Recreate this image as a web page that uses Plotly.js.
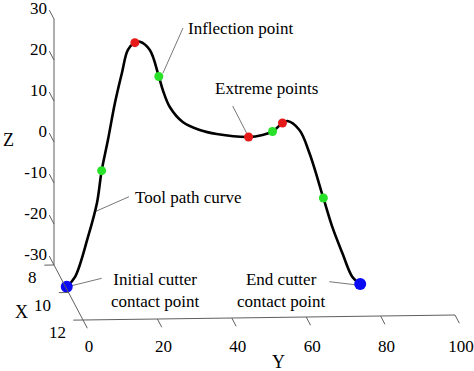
<!DOCTYPE html>
<html><head><meta charset="utf-8">
<script src="https://cdn.plot.ly/plotly-3.0.1.min.js"></script>
<style>html,body{margin:0;padding:0;background:#fff}#chart{width:474px;height:371px}</style>
</head><body><div id="chart"></div>
<script>
// Tool path curve (Y and Z in axis units)
const curveY = [-5.98,-3.75,-0.27,2.14,3.40,5.09,6.97,8.85,10.46,12.33,13.67,16.35,18.77,19.84,21.72,25.2,29.76,34.32,42.9,46.65,49.33,52.0,53.35,56.57,59.25,63.0,65.4,68.1,70.8,72.9];
const curveZ = [-37.98,-35.6,-25.85,-17.56,-9.68,-2.2,6.83,14.15,19.76,21.54,21.78,19.76,13.29,10.0,5.85,2.2,0.24,-0.73,-1.46,-0.98,-0.12,1.95,2.44,0.24,-5.37,-16.34,-23.4,-29.76,-35.6,-37.3];
// Extreme points (red)
const extremeY = [12.33, 42.9, 52.0];
const extremeZ = [21.54, -1.46, 1.95];
// Inflection points (green)
const inflectY = [3.40, 18.77, 49.33, 63.0];
const inflectZ = [-9.68, 13.29, -0.12, -16.34];
// Initial / end cutter contact points (blue)
const endY = [-5.98, 72.9];
const endZ = [-37.98, -37.3];
// Tick values
const yTicks = [0, 20, 40, 60, 80, 100];
const zTicks = [30, 20, 10, 0, -10, -20, -30];
const xTicks = [8, 10, 12];

const W = 474, H = 371, L = 50, R = 0, T = 0, B = 51;
const pw = W - L - R, ph = H - T - B;
const xRange = [(L - 89) / 3.72, (W - R - 89) / 3.72];
const yRange = [(131 - (H - B)) / 4.1, (131 - T) / 4.1];
function paper(px, py) { return {x: (px - L) / pw, y: (H - B - py) / ph}; }
// oblique projection of the 3D axis box onto the page
function scr(X, Y, Z) { return [54 + 7.25 * (X - 8) + 3.72 * Y, 265 + 13.75 * (X - 8) - 4.1 * (Z + 30) - 0.05 * Y]; }
const axisCol = 'rgb(95,95,95)';
function seg(a, b, color, width, layer) {
  const p = paper(a[0], a[1]), q = paper(b[0], b[1]);
  return {type: 'line', xref: 'paper', yref: 'paper', x0: p.x, y0: p.y, x1: q.x, y1: q.y,
          line: {color: color, width: width}, layer: layer || 'above'};
}
const shapes = [];
shapes.push(seg(scr(8, 0, -30), scr(8, 0, 30), axisCol, 1));
zTicks.forEach(v => shapes.push(seg(scr(8, 0, v), scr(7.35, 0, v), axisCol, 1)));
shapes.push(seg(scr(8, 0, -30), scr(12, 0, -30), axisCol, 1));
xTicks.forEach(v => shapes.push(seg(scr(v, 0, -30), scr(v, -2.6, -30), axisCol, 1)));
shapes.push(seg(scr(12, 0, -30), scr(12, 100, -30), axisCol, 1));
yTicks.forEach(v => shapes.push(seg(scr(12, v, -30), scr(12.6, v, -30), axisCol, 1)));
// leader lines
const leadCol = 'rgb(120,120,120)';
[[[183, 28], [163, 73]], [[232.7, 106], [246.7, 133.3]], [[129, 196.7], [95, 211.7]],
 [[101.7, 278.3], [71.7, 285.7]], [[329.3, 281.7], [357.3, 285]]]
  .forEach(s => shapes.push(seg(s[0], s[1], leadCol, 1, 'below')));

const fontF = 'Liberation Serif';
function ann(text, px, py, xanchor, size) {
  const p = paper(px, py);
  return {text: text, xref: 'paper', yref: 'paper', x: p.x, y: p.y, showarrow: false,
          xanchor: xanchor || 'center', yanchor: 'middle', align: 'center',
          font: {family: fontF, size: size || 17, color: '#000'}};
}
const annotations = [
  ann('Inflection point', 241, 28),
  ann('Extreme points', 266, 89),
  ann('Tool path curve', 188, 197),
  ann('Initial cutter<br>contact point', 155.5, 290),
  ann('End cutter<br>contact point', 281, 290),
  ann('Z', 8.5, 140, 'center', 18),
  ann('X', 21.7, 311.5, 'center', 18),
  ann('Y', 278.3, 362, 'center', 18)
];
xTicks.forEach(v => { const s = scr(v, 0, -30); annotations.push(ann(String(v), s[0] - 15.5, s[1] + 12.5, 'right')); });

const traces = [
  {x: curveY, y: curveZ, mode: 'lines', line: {color: '#000', width: 2.6, shape: 'spline', smoothing: 1}, hoverinfo: 'skip'},
  {x: inflectY, y: inflectZ, mode: 'markers', marker: {color: 'rgb(40,225,40)', size: 9}},
  {x: extremeY, y: extremeZ, mode: 'markers', marker: {color: 'rgb(230,25,25)', size: 9}},
  {x: endY, y: endZ, mode: 'markers', marker: {color: 'rgb(10,10,245)', size: 12}, cliponaxis: false}
];

const layout = {
  width: W, height: H, margin: {l: L, r: R, t: T, b: B, pad: 0},
  paper_bgcolor: '#fff', plot_bgcolor: '#fff', showlegend: false,
  font: {family: fontF, size: 17, color: '#000'},
  xaxis: {range: xRange, tickvals: yTicks, ticktext: yTicks.map(String), showgrid: false, zeroline: false,
          showline: false, ticks: '', ticklabelstandoff: 14, ticklabeloverflow: 'allow', fixedrange: true,
          tickfont: {family: fontF, size: 17, color: '#000'}},
  yaxis: {range: yRange, tickvals: zTicks, ticktext: zTicks.map(String), showgrid: false, zeroline: false,
          showline: false, ticks: '', ticklabelstandoff: 2, ticklabeloverflow: 'allow', fixedrange: true,
          tickfont: {family: fontF, size: 17, color: '#000'}},
  shapes: shapes, annotations: annotations
};
Plotly.newPlot('chart', traces, layout, {displayModeBar: false, staticPlot: true});
</script>
</body></html>
